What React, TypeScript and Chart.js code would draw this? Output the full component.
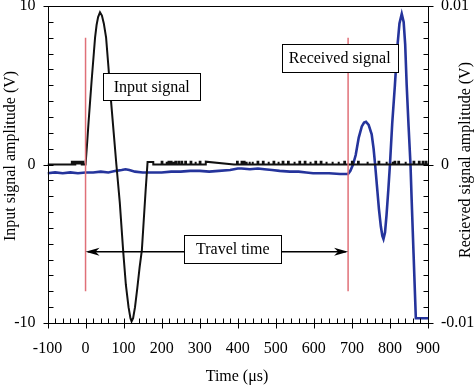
import React, { useEffect, useRef } from "react";
import { Chart, registerables } from "chart.js";
Chart.register(...registerables);

// ---------- data ----------
const timeMin = -100;
const timeMax = 900;
const inputMin = -10;
const inputMax = 10;
const receivedMin = -0.01;
const receivedMax = 0.01;

// Input signal pulse [time µs, amplitude V]
const inputPulse: [number, number][] = [
  [0, 0], [4, 1.3], [8, 2.7], [12, 4.0], [16, 5.3], [19, 6.2], [22, 7.1], [25, 8.0],
  [29, 8.8], [33, 9.3], [38, 9.6], [43, 9.4], [48, 8.9], [54, 8.0], [60, 6.2],
  [67, 4.0], [74, 2.0], [81, 0], [90, -2.4], [99, -5.5], [106, -7.6], [113, -9.0],
  [118, -9.7], [121, -9.9], [125, -9.7], [130, -9.0], [136, -7.8], [142, -6.5],
  [148, -5.4], [153, -3.5], [158, -1.6], [163, 0.15], [178, 0.15], [178, 0],
];
// small noise spikes on the input baseline [start, end]
const inputSpikesBefore: [number, number][] = [
  [-36, -34], [-33, -31], [-30, -28], [-27, -25], [-24, -22], [-21, -19],
  [-18, -16], [-15, -13], [-12, -10], [-9, -6],
];
const inputSpikesAfter: [number, number][] = [
  [200, 202], [212, 214], [218, 220], [224, 226], [230, 232], [236, 238],
  [244, 246], [252, 254], [262, 264], [276, 278], [288, 290], [300, 302],
];
const inputWedge: [number, number][] = [[316, 0], [316, 0.18], [390, 0]];
const inputSpikesLate: [number, number][] = [
  [398, 400], [410, 412], [416, 418], [422, 424], [430, 432], [438, 440],
  [452, 454], [466, 468], [480, 482], [494, 496], [506, 508], [518, 520],
  [532, 534], [548, 550], [562, 564], [576, 578], [590, 592], [604, 606],
  [618, 620], [632, 634], [648, 650], [664, 666], [680, 682], [700, 702],
  [716, 718], [740, 742], [770, 772], [790, 792], [806, 808], [812, 814],
  [822, 824], [840, 842], [862, 864], [876, 878], [886, 888], [894, 896],
];
const noiseLevel = 0.18;

// Received signal [time µs, amplitude V]
const receivedSignal: [number, number][] = [
  [-100, -0.00055], [-80, -0.0005], [-60, -0.00055], [-40, -0.0005], [-20, -0.00055],
  [0, -0.0005], [20, -0.0005], [40, -0.00045], [60, -0.0005], [80, -0.0004],
  [95, -0.00035], [105, -0.0003], [115, -0.00035], [130, -0.00045], [150, -0.0005],
  [175, -0.0005], [200, -0.0005], [225, -0.00045], [250, -0.00045], [275, -0.0004],
  [300, -0.0004], [325, -0.00045], [350, -0.0004], [380, -0.00035], [400, -0.00025],
  [410, -0.00025], [432, -0.0003], [453, -0.00025], [470, -0.0003], [490, -0.00035],
  [510, -0.0004], [537, -0.00045], [560, -0.00045], [580, -0.0005], [598, -0.00055],
  [620, -0.00055], [640, -0.00055], [669, -0.0006], [690, -0.0006], [696, -0.0004],
  [703, 0], [710, 0.0006], [718, 0.0017], [726, 0.0024], [732, 0.00265], [737, 0.0027],
  [744, 0.0025], [752, 0.0019], [757, 0.001], [761, 0], [766, -0.0014], [771, -0.0028],
  [776, -0.0039], [780, -0.0045], [783, -0.0047], [787, -0.0043], [791, -0.0032],
  [796, -0.0015], [800, 0], [806, 0.0026], [813, 0.005], [819, 0.0073], [825, 0.0089],
  [831, 0.0095], [836, 0.009], [840, 0.0076], [844, 0.005], [849, 0.0024], [854, 0],
  [857, -0.0022], [862, -0.0056], [868, -0.0097], [900, -0.0097],
];

// Onset markers and travel-time arrow
const markerTimes = [0, 690];
const markerTop = 8;
const markerBottom = -8;
const arrowLevel = -5.5;

// Text labels
const labelTexts = ["Input signal", "Received signal", "Travel time"];
const labelTimes = [174, 668, 387];
const labelValues = [4.93, 6.73, -5.34];

// Tick labels / axis titles
const xTitle = "Time (\u03bcs)";
const yTitle = "Input signal amplitude (V)";
const y2Title = "Recieved signal amplitude (V)";

// ---------- build ----------
function buildInput() {
  const pts: { x: number; y: number }[] = [{ x: timeMin, y: 0 }];
  const addSpikes = (sp: [number, number][]) => {
    for (const [s, e] of sp) {
      pts.push({ x: s, y: 0 }, { x: s, y: noiseLevel }, { x: e, y: noiseLevel }, { x: e, y: 0 });
    }
  };
  addSpikes(inputSpikesBefore);
  for (const [x, y] of inputPulse) pts.push({ x, y });
  addSpikes(inputSpikesAfter);
  for (const [x, y] of inputWedge) pts.push({ x, y });
  addSpikes(inputSpikesLate);
  pts.push({ x: timeMax, y: 0 });
  return pts;
}

const FONT = '"Liberation Serif", "Times New Roman", serif';
const boxSizes = [
  [97, 27],
  [116, 28],
  [97, 28],
];

const decorPlugin = {
  id: "decor",
  afterDatasetsDraw(chart: any) {
    const { ctx, scales } = chart;
    const xs = scales.x;
    const ys = scales.y;
    ctx.save();
    // arrow heads
    const ay = ys.getPixelForValue(arrowLevel);
    const drawHead = (tipX: number, dir: number) => {
      ctx.beginPath();
      ctx.moveTo(tipX, ay);
      ctx.lineTo(tipX + dir * 14, ay - 4);
      ctx.lineTo(tipX + dir * 10, ay);
      ctx.lineTo(tipX + dir * 14, ay + 4);
      ctx.closePath();
      ctx.fillStyle = "#000";
      ctx.fill();
    };
    drawHead(xs.getPixelForValue(markerTimes[0]), 1);
    drawHead(xs.getPixelForValue(markerTimes[1]), -1);
    // label boxes
    ctx.font = `16px ${FONT}`;
    ctx.textAlign = "center";
    ctx.textBaseline = "middle";
    labelTexts.forEach((t, i) => {
      const cx = xs.getPixelForValue(labelTimes[i]);
      const cy = ys.getPixelForValue(labelValues[i]);
      const [w, h] = boxSizes[i];
      const l = Math.round(cx - w / 2) + 0.5;
      const tp = Math.round(cy - h / 2) + 0.5;
      ctx.fillStyle = "#fff";
      ctx.fillRect(l, tp, w, h);
      ctx.strokeStyle = "#000";
      ctx.lineWidth = 1;
      ctx.strokeRect(l, tp, w, h);
      ctx.fillStyle = "#000";
      ctx.fillText(t, cx, cy + 1);
    });
    ctx.restore();
  },
  afterDraw(chart: any) {
    const { ctx, chartArea: a, scales } = chart;
    const xs = scales.x;
    const ys = scales.y;
    const y2s = scales.y2;
    ctx.save();
    ctx.strokeStyle = "#000";
    ctx.lineWidth = 1;
    const L = Math.round(a.left) + 0.5;
    const R = Math.round(a.right) + 0.5;
    const T = Math.round(a.top) + 0.5;
    const B = Math.round(a.bottom) + 0.5;
    ctx.beginPath();
    ctx.rect(L, T, R - L, B - T);
    ctx.stroke();
    ctx.beginPath();
    // x ticks
    for (let v = timeMin; v <= timeMax + 1e-6; v += 20) {
      const px = Math.round(xs.getPixelForValue(v)) + 0.5;
      const major = Math.abs(v % 100) < 1e-6;
      ctx.moveTo(px, B - 5);
      ctx.lineTo(px, major ? B + 5 : B);
    }
    // left ticks
    for (let v = inputMin; v <= inputMax + 1e-6; v += 1) {
      const py = Math.round(ys.getPixelForValue(v)) + 0.5;
      const major = Math.abs(v % 10) < 1e-6;
      ctx.moveTo(major ? L - 5 : L, py);
      ctx.lineTo(L + 5, py);
    }
    // right ticks
    for (let k = -10; k <= 10; k++) {
      const v = k * 0.001;
      const py = Math.round(y2s.getPixelForValue(v)) + 0.5;
      const major = k % 10 === 0;
      ctx.moveTo(R - 5, py);
      ctx.lineTo(major ? R + 5 : R, py);
    }
    ctx.stroke();
    // titles
    ctx.fillStyle = "#000";
    ctx.font = `16px ${FONT}`;
    ctx.textAlign = "center";
    ctx.textBaseline = "middle";
    ctx.fillText(xTitle, 237, 377);
    ctx.save();
    ctx.translate(11, 156);
    ctx.rotate(-Math.PI / 2);
    ctx.fillText(yTitle, 0, 0);
    ctx.restore();
    ctx.save();
    ctx.translate(466, 160);
    ctx.rotate(-Math.PI / 2);
    ctx.fillText(y2Title, 0, 0);
    ctx.restore();
    ctx.restore();
  },
};

export default function App() {
  const ref = useRef<HTMLCanvasElement>(null);
  useEffect(() => {
    if (!ref.current) return;
    const tickFont = { family: FONT, size: 16 };
    const chart = new Chart(ref.current, {
      type: "line",
      data: {
        datasets: [
          ...markerTimes.map((t) => ({
            data: [{ x: t, y: markerTop }, { x: t, y: markerBottom }],
            borderColor: "#e07078",
            borderWidth: 1.5,
            pointRadius: 0,
            yAxisID: "y",
          })),
          {
            data: [
              { x: markerTimes[0] + 6, y: arrowLevel },
              { x: markerTimes[1] - 6, y: arrowLevel },
            ],
            borderColor: "#000",
            borderWidth: 1.5,
            pointRadius: 0,
            yAxisID: "y",
          },
          {
            data: buildInput(),
            borderColor: "#111",
            borderWidth: 2,
            pointRadius: 0,
            tension: 0,
            yAxisID: "y",
          },
          {
            data: receivedSignal.map(([x, y]) => ({ x, y })),
            borderColor: "#25349c",
            borderWidth: 2.6,
            pointRadius: 0,
            tension: 0,
            yAxisID: "y2",
          },
        ],
      },
      options: {
        responsive: false,
        animation: false,
        devicePixelRatio: 1,
        layout: { padding: { top: 6, left: 0, right: 0, bottom: 0 } },
        plugins: { legend: { display: false }, tooltip: { enabled: false } },
        events: [],
        scales: {
          x: {
            type: "linear",
            position: "bottom",
            min: timeMin,
            max: timeMax,
            grid: { display: false, drawTicks: false },
            border: { display: false },
            ticks: {
              stepSize: 100,
              autoSkip: false,
              maxRotation: 0,
              padding: 16,
              color: "#000",
              font: tickFont,
            },
            afterFit: (s: any) => {
              s.height = 65;
              s.paddingLeft = 0;
              s.paddingRight = 0;
            },
          },
          y: {
            type: "linear",
            position: "left",
            min: inputMin,
            max: inputMax,
            grid: { display: false, drawTicks: false },
            border: { display: false },
            ticks: { stepSize: 10, padding: 12, color: "#000", font: tickFont },
            afterFit: (s: any) => {
              s.width = 47.5;
              s.paddingTop = 0;
              s.paddingBottom = 0;
            },
          },
          y2: {
            type: "linear",
            position: "right",
            min: receivedMin,
            max: receivedMax,
            grid: { display: false, drawTicks: false },
            border: { display: false },
            ticks: {
              stepSize: 0.01,
              padding: 13,
              color: "#000",
              font: tickFont,
              callback: (v: any) => (Math.abs(v) < 1e-9 ? "0" : String(+Number(v).toFixed(2))),
            },
            afterFit: (s: any) => {
              s.width = 46;
              s.paddingTop = 0;
              s.paddingBottom = 0;
            },
          },
        },
      } as any,
      plugins: [decorPlugin],
    });
    return () => chart.destroy();
  }, []);
  return (
    <div style={{ position: "fixed", left: 0, top: 0, width: 474, height: 388, background: "#fff" }}>
      <canvas ref={ref} width={474} height={388} style={{ display: "block", width: 474, height: 388 }} />
    </div>
  );
}
